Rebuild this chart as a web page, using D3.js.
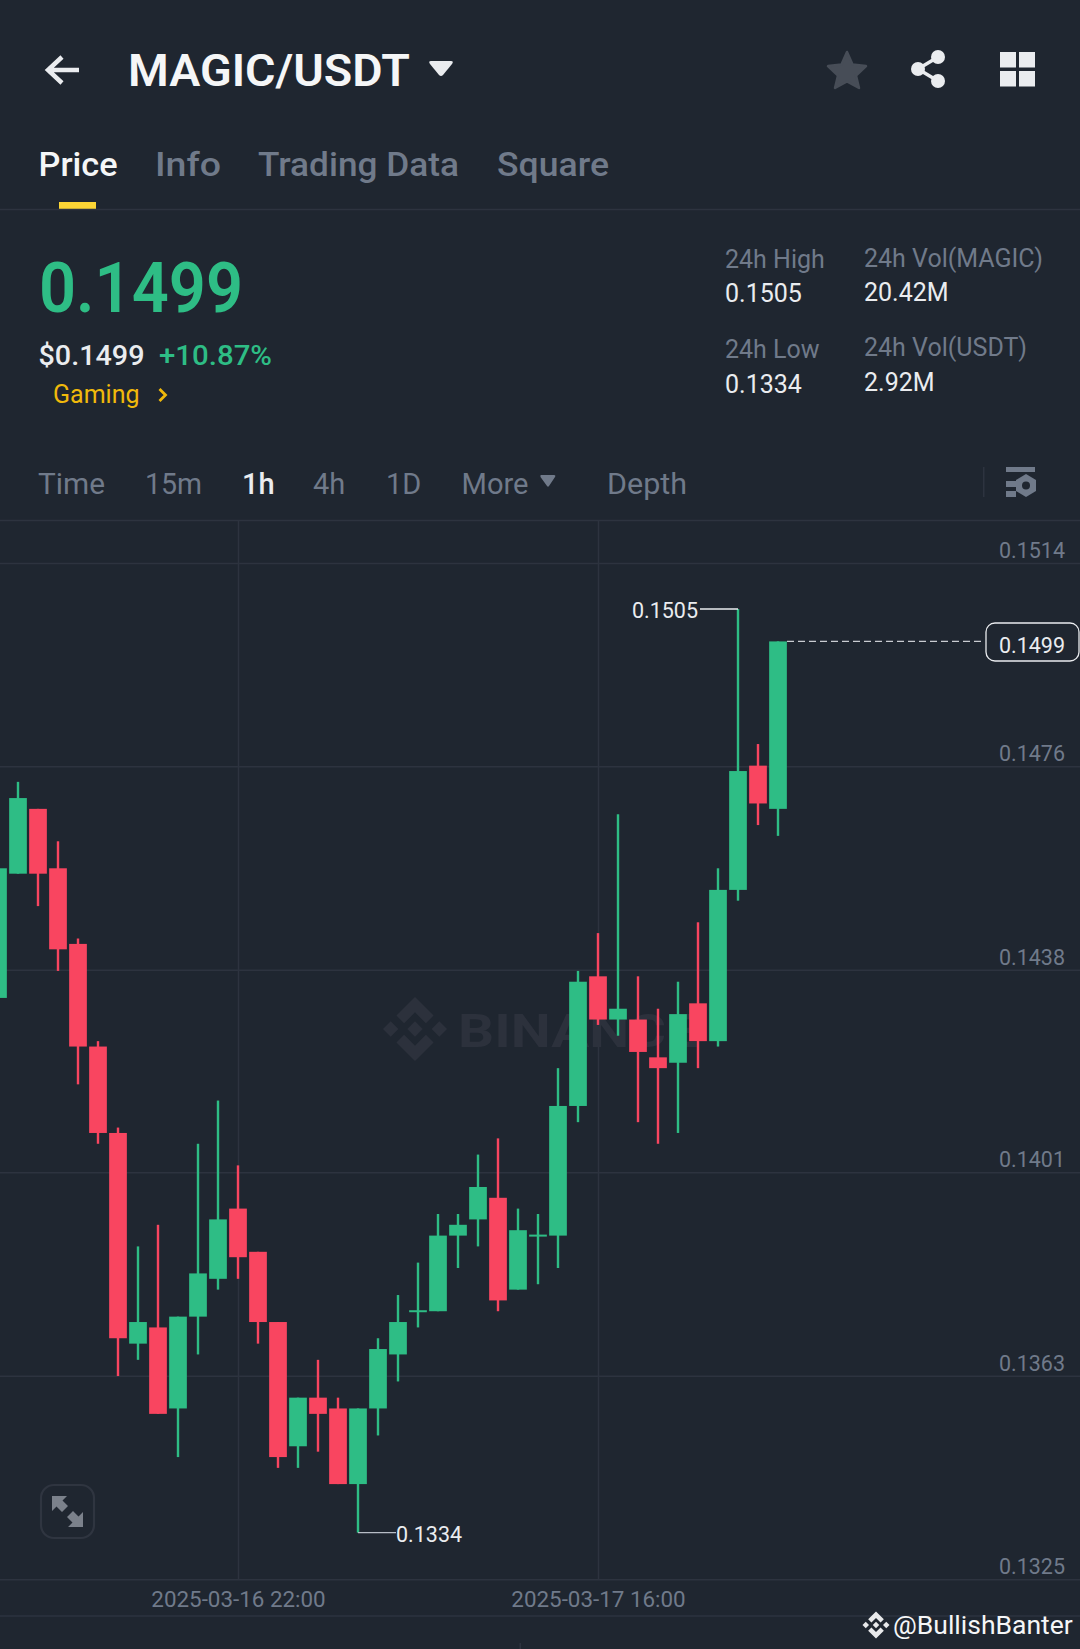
<!DOCTYPE html>
<html><head><meta charset="utf-8">
<script src="https://cdn.jsdelivr.net/npm/d3@7/dist/d3.min.js"></script>
<style>html,body{margin:0;padding:0;background:#1f2630;overflow:hidden}svg{display:block}text{font-family:Roboto,sans-serif}</style>
</head><body><svg id="c" width="1080" height="1649"></svg>
<script>
// Hourly candles (left to right)
const opens  = [.1433,.1456,.1468,.1457,.1443,.1424,.1408,.1369,.1372,.1357,.1374,.1381,.1394,.1386,.1373,.1350,.1359,.1357,.1343,.1357,.1367,.1375,.1375,.1389,.1392,.1396,.1379,.1389,.1389,.1413,.1437,.1429,.1429,.1422,.1421,.1432,.1425,.1453,.1476,.1468];
const closes = [.1457,.1470,.1456,.1442,.1424,.1408,.1370,.1373,.1356,.1374,.1382,.1392,.1385,.1373,.1348,.1359,.1356,.1343,.1357,.1368,.1373,.1375,.1389,.1391,.1398,.1377,.1390,.1389,.1413,.1436,.1429,.1431,.1423,.1420,.1430,.1425,.1453,.1475,.1469,.1499];
const highs  = [.1457,.1473,.1468,.1462,.1444,.1425,.1409,.1387,.1391,.1374,.1406,.1414,.1402,.1386,.1373,.1359,.1366,.1359,.1357,.1370,.1378,.1384,.1393,.1393,.1404,.1407,.1394,.1393,.1420,.1438,.1445,.1467,.1437,.1431,.1436,.1447,.1457,.1505,.1480,.1499];
const lows   = [.1433,.1456,.1450,.1438,.1417,.1406,.1363,.1366,.1356,.1348,.1367,.1379,.1381,.1369,.1346,.1346,.1349,.1343,.1334,.1352,.1362,.1372,.1375,.1383,.1387,.1375,.1379,.1380,.1383,.1410,.1428,.1426,.1410,.1406,.1408,.1420,.1424,.1451,.1465,.1463];
const priceTicks = [.151352,.147588,.143823,.140072,.136307,.13254];
const timeTickIndex = [12,30];
const timeTickLabels = ["2025-03-16 22:00","2025-03-17 16:00"];
const lastPrice = .1499, dayHigh = .1505, dayLow = .1334;
const tabs = ["Price","Info","Trading Data","Square"];
const frames = ["Time","15m","1h","4h","1D","More","Depth"];

const BG="#1f2630",GRID="#2d333f",UP="#2ebd85",DOWN="#f94560",DIM="#707a8a",WHITE="#eaecef";
const svg=d3.select("#c");
svg.append("rect").attr("width",1080).attr("height",1649).attr("fill",BG);

const x=d3.scaleLinear().domain([0,54]).range([-2,1078]);
const y=d3.scaleLinear().domain([dayHigh,dayLow]).range([609,1532.7]);
const fmt=d3.format(".4f");

function T(px,py,s,size,fill,weight,anchor,len){
  const t=svg.append("text").attr("x",px).attr("y",py).text(s).attr("font-size",size)
    .attr("fill",fill).attr("font-weight",weight||400).attr("text-anchor",anchor||"start");
  if(len) t.attr("textLength",len).attr("lengthAdjust","spacingAndGlyphs");
  return t;
}
function hline(py,c){svg.append("rect").attr("x",0).attr("y",py-.75).attr("width",1080).attr("height",1.5).attr("fill",c||GRID);}

// ---- header
svg.append("path").attr("d","M79 70H49M62 57L48 70L62 83").attr("fill","none").attr("stroke",WHITE).attr("stroke-width",4.5);
T(128,86,"MAGIC/USDT",44,"#f5f6f7",600,"start",282);
svg.append("path").attr("d","M431 61H451Q454 61 452 64L443 75Q441 77 439 75L430 64Q428 61 431 61Z").attr("fill",WHITE);
svg.append("path").attr("d","M847 52L852.5 64.5L866 66L856 75.5L859 88L847 81.500L835 88L838 75.500L828 66L841.5 64.5Z")
  .attr("fill","#474d57").attr("stroke","#474d57").attr("stroke-width",2.5).attr("stroke-linejoin","round");
const share=svg.append("g").attr("fill",WHITE);
[[938,57],[918,69],[938,81]].forEach(p=>share.append("circle").attr("cx",p[0]).attr("cy",p[1]).attr("r",7));
svg.append("path").attr("d","M938 57L918 69L938 81").attr("fill","none").attr("stroke",WHITE).attr("stroke-width",3.5);
[[1000,52],[1019,52],[1000,71],[1019,71]].forEach(p=>svg.append("rect").attr("x",p[0]).attr("y",p[1]).attr("width",16).attr("height",15.5).attr("fill",WHITE));

// ---- tabs
const tabX=[38.500,155,258,497];
const tabW=[79,66,201,112];
tabs.forEach((s,i)=>T(tabX[i],176,s,33,i===0?"#f5f6f7":DIM,500,"start",tabW[i]));
svg.append("rect").attr("x",59).attr("y",202).attr("width",37).attr("height",7).attr("fill","#fcd535");
hline(209.5);

// ---- price summary
T(39,312,fmt(lastPrice),70,UP,600,"start",204);
T(38.500,365,"$"+fmt(lastPrice),28.5,WHITE,500,"start",106);
T(159,365,"+10.87%",28.5,UP,500,"start",113);
T(53,403,"Gaming",25,"#f0b90b");
svg.append("path").attr("d","M159.5 389L165.5 395L159.5 401").attr("fill","none").attr("stroke","#f0b90b").attr("stroke-width",2.8);
T(725,268,"24h High",25,DIM);
T(725,302,fmt(dayHigh),25,WHITE);
T(725,358,"24h Low",25,DIM);
T(725,393,fmt(dayLow),25,WHITE);
T(864,266.500,"24h Vol(MAGIC)",25,DIM);
T(864,301,"20.42M",25,WHITE);
T(864,356,"24h Vol(USDT)",25,DIM);
T(864,391,"2.92M",25,WHITE);

// ---- time frames
const frameX=[38,145,242,313,386,461.500,607];
const frameW=[67,57,0,0,0,67,80];
frames.forEach((s,i)=>T(frameX[i],493.500,s,29,s==="1h"?WHITE:DIM,s==="1h"?500:400,"start",frameW[i]));
svg.append("path").attr("d","M541 475H554Q556 475 555 477L549 486Q548 487.500 547 486L540.500 477Q540 475 541 475Z").attr("fill",DIM);
svg.append("rect").attr("x",983).attr("y",467).attr("width",1.5).attr("height",30).attr("fill",GRID);
svg.append("path").attr("d","M1006 467H1035V472H1006ZM1006 481H1016V487H1006ZM1006 491H1016V497H1006Z").attr("fill",DIM);
svg.append("path").attr("d","M1026 474L1036 480V491L1026 497L1016 491V480Z").attr("fill",DIM);
svg.append("circle").attr("cx",1026).attr("cy",485.500).attr("r",4).attr("fill",BG);
hline(520.5);

// ---- grid via axes
const yAxis=d3.axisLeft(y).tickValues(priceTicks).tickSize(1080).tickFormat(fmt);
const gy=svg.append("g").attr("transform","translate(1080,0)").call(yAxis);
gy.select(".domain").remove();
gy.selectAll("line").attr("stroke",GRID).attr("stroke-width",1.5);
gy.selectAll("text").attr("x",-15).attr("dy","-5.500").attr("text-anchor","end").attr("fill",DIM).attr("font-size",21.5).attr("font-family","Roboto");

const xAxis=d3.axisBottom(x).tickValues(timeTickIndex).tickSize(0).tickFormat((d,i)=>timeTickLabels[i]);
const gx=svg.append("g").attr("transform","translate(0,1579)").call(xAxis);
gx.select(".domain").remove();
gx.selectAll("text").attr("y",27.500).attr("dy",0).attr("fill",DIM).attr("font-size",22.400).attr("font-family","Roboto");
gx.selectAll(".tick").append("rect").attr("x",-.75).attr("y",-1058).attr("width",1.5).attr("height",1058).attr("fill",GRID);
hline(1616);

// ---- watermark
function bnb(sel,cx,cy,r,fill){
  const g=sel.append("g").attr("transform",`translate(${cx},${cy}) scale(${r})`).attr("fill",fill);
  g.append("path").attr("d","M0 -1L.58 -.42L.34 -.18L0 -.52L-.34 -.18L-.58 -.42Z");
  g.append("path").attr("d","M0 1L.58 .42L.34 .18L0 .52L-.34 .18L-.58 .42Z");
  [-.76,0,.76].forEach(d=>g.append("path").attr("d",`M${d-.24} 0L${d} -.24L${d+.24} 0L${d} .24Z`));
}
bnb(svg,415,1029,32,"#2c313c");
T(458,1047,"BINANCE",47,"#2c313c",700,"start",240);

// ---- candles
const candles=d3.range(opens.length);
const colour=i=>closes[i]>=opens[i]?UP:DOWN;
const cg=svg.append("g");
cg.selectAll("rect.wick").data(candles).join("rect").attr("class","wick")
  .attr("x",i=>x(i)-1.2).attr("width",2.4)
  .attr("y",i=>y(highs[i])).attr("height",i=>y(lows[i])-y(highs[i])).attr("fill",colour);
cg.selectAll("rect.body").data(candles).join("rect").attr("class","body")
  .attr("x",i=>x(i)-8.85).attr("width",17.7)
  .attr("y",i=>y(Math.max(opens[i],closes[i]))-(opens[i]===closes[i]?1:0))
  .attr("height",i=>Math.max(2,y(Math.min(opens[i],closes[i]))-y(Math.max(opens[i],closes[i]))))
  .attr("fill",colour);

// ---- high / low / last annotations
const hi=highs.indexOf(dayHigh), lo=lows.indexOf(dayLow), last=closes.length-1;
svg.append("line").attr("x1",x(hi)).attr("x2",x(hi)-38).attr("y1",y(dayHigh)).attr("y2",y(dayHigh)).attr("stroke",WHITE).attr("stroke-width",1.3);
T(x(hi)-40,y(dayHigh)+8.500,fmt(dayHigh),21.5,WHITE,400,"end");
svg.append("line").attr("x1",x(lo)).attr("x2",x(lo)+38).attr("y1",y(dayLow)).attr("y2",y(dayLow)).attr("stroke","#b7bdc6").attr("stroke-width",1.3);
T(x(lo)+38,y(dayLow)+9,fmt(dayLow),21.5,WHITE);
svg.append("line").attr("x1",x(last)+9).attr("x2",983).attr("y1",y(lastPrice)).attr("y2",y(lastPrice))
  .attr("stroke","#c9ccd1").attr("stroke-width",1.4).attr("stroke-dasharray","7 4");
svg.append("rect").attr("x",986).attr("y",623).attr("width",93).attr("height",38).attr("rx",9)
  .attr("fill",BG).attr("stroke",WHITE).attr("stroke-width",1.3);
T(1065,652.500,fmt(lastPrice),21.5,WHITE,400,"end");

// ---- expand button
svg.append("rect").attr("x",41).attr("y",1485).attr("width",53).attr("height",53).attr("rx",13).attr("fill","none").attr("stroke","#2f3540").attr("stroke-width",2.2);
svg.append("path").attr("d","M52 1496H67L62.500 1500.500L68 1506L62 1512L56.500 1506.500L52 1511Z").attr("fill","#7b818b");
svg.append("path").attr("d","M83 1527H68L72.500 1522.500L67 1517L73 1511L78.500 1516.500L83 1512Z").attr("fill","#7b818b");

// ---- credit
bnb(svg,876,1625,13.5,"#e8e9eb");
T(893,1634,"@BullishBanter",26.500,"#f5f6f7",400);
svg.append("rect").attr("x",519.500).attr("y",1643).attr("width",1.5).attr("height",6).attr("fill",GRID);
</script></body></html>
